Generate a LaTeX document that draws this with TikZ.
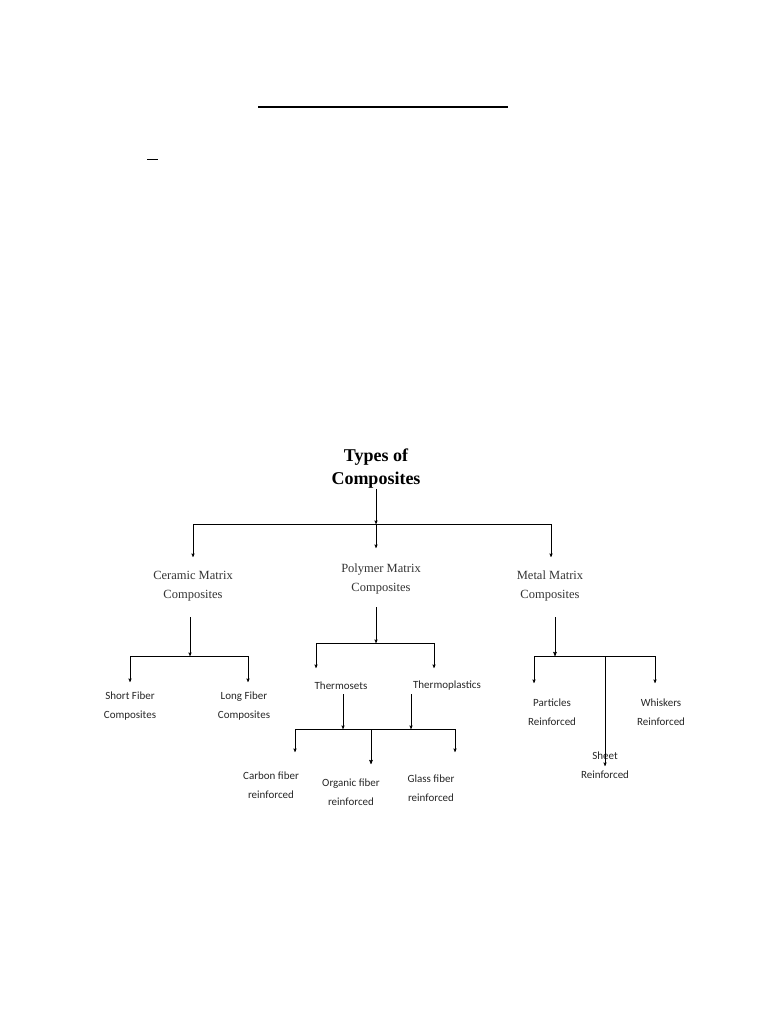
\documentclass[tikz,border=0pt]{standalone}
\usepackage{fontspec}
\setmainfont{Liberation Serif}
\newfontfamily\calib{Carlito}
\usetikzlibrary{arrows}

\begin{document}
\begin{tikzpicture}[x=1pt,y=-1pt,>=stealth',thin,
    head node/.style={align=center,font=\bfseries\fontsize{18}{23}\selectfont,inner sep=0pt},
    main node/.style={align=center,font=\fontsize{12.5}{19}\selectfont,text=black!80,inner sep=0pt},
    sub node/.style={align=center,font=\calib\fontsize{11}{19}\selectfont,text=black!85,inner sep=0pt}]
  \useasboundingbox (0,0) rectangle (768,1024);
  \draw[line width=2pt] (258,107) -- (508,107);
  \draw[line width=1pt] (147,160) -- (158,160);

  \node[head node] (types) at (376,469) {Types of\\Composites};
  \node[main node] (ceramic) at (193,586) {Ceramic Matrix\\Composites};
  \node[main node] (polymer) at (381,579) {Polymer Matrix\\Composites};
  \node[main node] (metal) at (550,586) {Metal Matrix\\Composites};

  \node[sub node] (short) at (130,706) {Short Fiber\\Composites};
  \node[sub node] (long) at (244,706) {Long Fiber\\Composites};
  \node[sub node] (tset) at (341,686) {Thermosets};
  \node[sub node] (tplast) at (447,686) {Thermoplastics};
  \node[sub node] (carbon) at (271,785) {Carbon fiber\\reinforced};
  \node[sub node] (organic) at (351,792) {Organic fiber\\reinforced};
  \node[sub node] (glass) at (431,788) {Glass fiber\\reinforced};
  \node[sub node] (partic) at (552,712) {Particles\\Reinforced};
  \node[sub node] (whisk) at (661,712) {Whiskers\\Reinforced};
  \node[sub node] (sheet) at (605,765) {Sheet\\Reinforced};

  % junctions
  \coordinate (j0) at (376,524);
  \coordinate (j1) at (190,656);
  \coordinate (j2) at (376,643);
  \coordinate (j3) at (371,729);
  \coordinate (j4) at (555,656);

  % top level
  \draw[->] (types.south) -- (j0);
  \draw[->] (j0) -- (376,548);
  \draw[->] (j0) -| (193,557);
  \draw[->] (j0) -| (551,557);

  % ceramic
  \draw[->] (190,617) -- (j1);
  \draw[->] (j1) -| (130,682);
  \draw[->] (j1) -| (248,682);

  % polymer
  \draw[->] (376,607) -- (j2);
  \draw[->] (j2) -| (316,668);
  \draw[->] (j2) -| (434,668);
  \draw[->] (343,694) -- (343,729);
  \draw[->] (411,694) -- (411,729);
  \draw (295,729) -- (455,729);
  \draw[->] (295,729) -- (295,752);
  \draw[->,semithick] (j3) -- (371,764);
  \draw[->] (455,729) -- (455,752);

  % metal
  \draw[->,semithick] (555,617) -- (j4);
  \draw[->] (j4) -| (534,683);
  \draw[->] (j4) -| (655,683);
  \draw[->] (605,656) -- (605,766);
\end{tikzpicture}
\end{document}
